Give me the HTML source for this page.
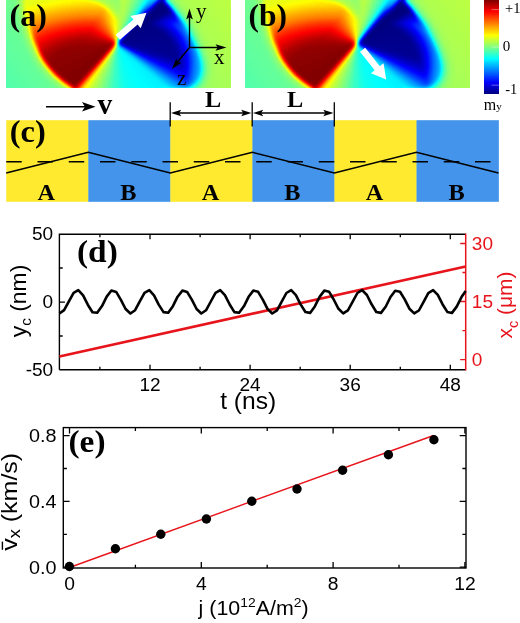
<!DOCTYPE html>
<html><head><meta charset="utf-8"><title>figure</title>
<style>
html,body{margin:0;padding:0;background:#fff}
#fig{position:relative;width:520px;height:623px;overflow:hidden;background:#fff;font-family:"Liberation Sans",sans-serif}
.hm{position:absolute;overflow:hidden;filter:url(#jet)}
.hm .bg{position:absolute;inset:0;background:linear-gradient(55deg,rgb(116,116,116) 0%,rgb(128,128,128) 35%,rgb(143,143,143) 100%)}
.wrap{position:absolute;inset:0}
.lobe{position:absolute;left:-20px;top:-20px;right:-20px;bottom:-20px}
#cbar{position:absolute;left:483.5px;top:0;width:15.8px;height:93.8px;background:linear-gradient(180deg,rgb(255,255,255),rgb(0,0,0));filter:url(#jet)}
svg#ov{position:absolute;left:0;top:0}
.sb{font-family:"Liberation Serif",serif;font-weight:bold}
.sr{font-family:"Liberation Serif",serif}
.ss{font-family:"Liberation Sans",sans-serif}
</style></head>
<body>
<div id="fig">
<svg width="0" height="0" style="position:absolute"><defs>
<filter id="jet" x="0" y="0" width="100%" height="100%" color-interpolation-filters="sRGB">
<feComponentTransfer>
<feFuncR type="table" tableValues="0 0 0 0 .5 1 1 1 .5"/>
<feFuncG type="table" tableValues="0 0 .5 1 1 1 .5 0 0"/>
<feFuncB type="table" tableValues=".5 1 1 1 .5 0 0 0 0"/>
</feComponentTransfer>
</filter></defs></svg>
<div class="hm" style="left:6.2px;top:0;width:224.5px;height:88.3px">
<div class="bg"></div>
<div class="wrap" style="filter:blur(5px)"><div class="lobe" style="clip-path:path('M 174.90,17.40 L 179.90,18.40 C 190.90,30.40 196.90,38.40 200.90,44.40 C 202.90,47.40 206.90,55.40 209.90,62.40 C 213.90,71.40 217.90,81.40 217.90,89.40 C 217.40,101.40 210.90,110.40 198.90,110.90 L 178.90,110.90 L 160.90,73.40 Z');background:rgb(92,92,92)"></div></div>
<div class="wrap" style="filter:blur(5.5px)"><div class="lobe" style="clip-path:path('M 86.90,109.40 L 82.90,107.40 L 75.90,101.90 L 67.40,94.90 L 61.40,87.90 L 55.90,80.90 L 51.90,73.40 L 48.90,66.40 L 46.40,61.40 L 44.40,54.90 L 42.40,48.40 C 39.90,39.40 37.90,27.40 36.90,15.40 L 93.90,18.40 L 107.90,21.40 L 117.90,25.90 L 124.90,32.40 L 132.90,43.40 L 130.90,58.40 L 90.90,63.40 Z');background:rgb(173,173,173)"></div></div>
<div class="wrap" style="filter:blur(2.2px)"><div class="lobe" style="clip-path:path('M 134.90,5.40 L 133.90,45.40 L 124.40,33.90 C 121.90,31.40 119.90,29.40 117.40,27.40 C 114.90,25.40 111.90,23.90 107.90,22.90 C 102.90,21.40 98.90,20.60 93.90,20.10 C 88.90,19.40 84.90,18.90 80.90,18.40 L 38.90,17.40 C 39.90,27.40 41.90,39.40 44.40,48.40 L 46.40,55.00 L 48.30,61.50 L 50.90,66.70 L 53.50,73.40 L 57.50,80.70 L 62.80,87.60 L 68.70,94.30 L 76.70,101.20 L 83.90,106.40 L 87.10,108.40 L 82.90,121.40 L 174.90,121.40 L 178.90,107.90 L 196.90,107.90 C 206.90,107.40 214.40,99.40 214.90,88.40 C 214.90,81.40 211.90,72.40 207.90,64.40 C 204.90,57.40 200.90,49.40 198.90,46.40 C 194.90,40.40 188.90,32.40 177.90,19.90 L 188.90,5.40 Z');background:conic-gradient(from 0deg at 130.9px 63.4px, #fff 0deg, #fff 43deg, #000 44deg, #000 58deg, rgb(70,70,70) 80deg, #fff 105deg, #fff 360deg),radial-gradient(circle at 150.9px 83.4px, rgb(0,0,0) 40px, rgb(32,32,32) 51px, rgb(64,64,64) 58px, rgb(82,82,82) 66px),radial-gradient(ellipse 185px 100px at 105.9px 87.4px, rgb(255,255,255) 20%, rgb(242,242,242) 30%, rgb(223,223,223) 38.5%, rgb(209,209,209) 45%, rgb(191,191,191) 51%, rgb(178,178,178) 58%, rgb(163,163,163) 65%, rgb(153,153,153) 71%, rgb(153,153,153) 100%),conic-gradient(from 47deg at 130.9px 63.4px, rgb(0,0,0) 0deg, rgb(5,5,5) 57deg, rgb(20,20,20) 65deg, rgb(43,43,43) 72deg, rgb(71,71,71) 78deg, rgb(92,92,92) 84deg, rgb(96,96,96) 105deg, rgb(99,99,99) 121deg, rgb(110,110,110) 137deg, rgb(128,128,128) 151deg, rgb(143,143,143) 162deg, rgb(163,163,163) 170deg, rgb(191,191,191) 172.5deg, rgb(223,223,223) 174.5deg, rgb(255,255,255) 177deg, rgb(251,251,251) 215deg, rgb(245,245,245) 228deg, rgb(235,235,235) 241deg, rgb(223,223,223) 253deg, rgb(209,209,209) 266deg, rgb(191,191,191) 283deg, rgb(163,163,163) 303deg, rgb(145,145,145) 318deg, rgb(138,138,138) 328deg, rgb(125,125,125) 336deg, rgb(110,110,110) 344deg, rgb(92,92,92) 349deg, rgb(51,51,51) 352.5deg, rgb(15,15,15) 355deg, rgb(0,0,0) 357deg, rgb(0,0,0) 360deg);background-blend-mode:darken,lighten,darken,normal;"></div></div>
</div>
<div class="hm" style="left:245.2px;top:0;width:224.5px;height:88.3px">
<div class="bg"></div>
<div class="wrap" style="filter:blur(5px)"><div class="lobe" style="clip-path:path('M 175.90,17.80 L 180.90,18.80 C 191.90,30.80 197.90,38.80 201.90,44.80 C 203.90,47.80 207.90,55.80 210.90,62.80 C 214.90,71.80 218.90,81.80 218.90,89.80 C 218.40,101.80 211.90,110.80 199.90,111.30 L 179.90,111.30 L 161.90,73.80 Z');background:rgb(92,92,92)"></div></div>
<div class="wrap" style="filter:blur(5.5px)"><div class="lobe" style="clip-path:path('M 87.90,109.80 L 83.90,107.80 L 76.90,102.30 L 68.40,95.30 L 62.40,88.30 L 56.90,81.30 L 52.90,73.80 L 49.90,66.80 L 47.40,61.80 L 45.40,55.30 L 43.40,48.80 C 40.90,39.80 38.90,27.80 37.90,15.80 L 94.90,18.80 L 108.90,21.80 L 118.90,26.30 L 125.90,32.80 L 133.90,43.80 L 131.90,58.80 L 91.90,63.80 Z');background:rgb(173,173,173)"></div></div>
<div class="wrap" style="filter:blur(2.2px)"><div class="lobe" style="clip-path:path('M 135.90,5.80 L 134.90,45.80 L 125.40,34.30 C 122.90,31.80 120.90,29.80 118.40,27.80 C 115.90,25.80 112.90,24.30 108.90,23.30 C 103.90,21.80 99.90,21.00 94.90,20.50 C 89.90,19.80 85.90,19.30 81.90,18.80 L 39.90,17.80 C 40.90,27.80 42.90,39.80 45.40,48.80 L 47.40,55.40 L 49.30,61.90 L 51.90,67.10 L 54.50,73.80 L 58.50,81.10 L 63.80,88.00 L 69.70,94.70 L 77.70,101.60 L 84.90,106.80 L 88.10,108.80 L 83.90,121.80 L 175.90,121.80 L 179.90,108.30 L 197.90,108.30 C 207.90,107.80 215.40,99.80 215.90,88.80 C 215.90,81.80 212.90,72.80 208.90,64.80 C 205.90,57.80 201.90,49.80 199.90,46.80 C 195.90,40.80 189.90,32.80 178.90,20.30 L 189.90,5.80 Z');background:conic-gradient(from 0deg at 131.9px 63.8px, #fff 0deg, #fff 43deg, #000 44deg, #000 58deg, rgb(70,70,70) 80deg, #fff 105deg, #fff 360deg),radial-gradient(circle at 151.9px 83.8px, rgb(0,0,0) 40px, rgb(32,32,32) 51px, rgb(64,64,64) 58px, rgb(82,82,82) 66px),radial-gradient(ellipse 185px 100px at 106.9px 87.8px, rgb(255,255,255) 20%, rgb(242,242,242) 30%, rgb(223,223,223) 38.5%, rgb(209,209,209) 45%, rgb(191,191,191) 51%, rgb(178,178,178) 58%, rgb(163,163,163) 65%, rgb(153,153,153) 71%, rgb(153,153,153) 100%),conic-gradient(from 47deg at 131.9px 63.8px, rgb(0,0,0) 0deg, rgb(5,5,5) 57deg, rgb(20,20,20) 65deg, rgb(43,43,43) 72deg, rgb(71,71,71) 78deg, rgb(92,92,92) 84deg, rgb(96,96,96) 105deg, rgb(99,99,99) 121deg, rgb(110,110,110) 137deg, rgb(128,128,128) 151deg, rgb(143,143,143) 162deg, rgb(163,163,163) 170deg, rgb(191,191,191) 172.5deg, rgb(223,223,223) 174.5deg, rgb(255,255,255) 177deg, rgb(251,251,251) 215deg, rgb(245,245,245) 228deg, rgb(235,235,235) 241deg, rgb(223,223,223) 253deg, rgb(209,209,209) 266deg, rgb(191,191,191) 283deg, rgb(163,163,163) 303deg, rgb(145,145,145) 318deg, rgb(138,138,138) 328deg, rgb(125,125,125) 336deg, rgb(110,110,110) 344deg, rgb(92,92,92) 349deg, rgb(51,51,51) 352.5deg, rgb(15,15,15) 355deg, rgb(0,0,0) 357deg, rgb(0,0,0) 360deg);background-blend-mode:darken,lighten,darken,normal;"></div></div>
</div>
<div id="cbar"></div>
<svg id="ov" width="520" height="623" viewBox="0 0 520 623">
<polygon fill="#fff" points="119.9,39.7 137.6,24.6 140.7,28.2 146.5,12.7 130.3,16.0 133.4,19.6 115.7,34.7"/>
<polygon fill="#fff" points="360.0,51.7 374.7,70.2 370.9,73.2 386.2,79.6 383.5,63.3 379.8,66.2 365.2,47.7"/>
<g stroke="#000" stroke-width="1.4" fill="none"><path d="M189.5,47.5V16M189.5,47.5H218M189.5,47.5L177,62.7"/></g>
<polygon points="189.5,8.5 186.2,19.5 189.5,17.3 192.8,19.5"/>
<polygon points="226.5,47.5 215.5,44.2 217.7,47.5 215.5,50.8"/>
<polygon points="171.8,69 176.3,58.5 177.8,62.3 181.5,62.8"/>
<text class="sr" x="196" y="17.5" font-size="21">y</text>
<text class="sr" x="214" y="64" font-size="21">x</text>
<text class="sr" x="177" y="84.5" font-size="21">z</text>
<text class="sr" x="505" y="12.5" font-size="14.5">+1</text>
<text class="sr" x="502.8" y="51" font-size="15">0</text>
<text class="sr" x="505.2" y="94.4" font-size="14.5">-1</text>
<text class="sr" x="483.8" y="109.7" font-size="16">m<tspan font-size="11">y</tspan></text>
<g stroke="#fff" stroke-width="0.7" opacity="0.55"><path d="M491.5,9.6h7.5M491.5,47h7.5M491.5,85.2h7.5"/></g>
<rect x="6.25" y="120.2" width="82.35" height="81.6" fill="#FFEA30"/>
<rect x="88.30" y="120.2" width="82.35" height="81.6" fill="#4394EA"/>
<rect x="170.35" y="120.2" width="82.35" height="81.6" fill="#FFEA30"/>
<rect x="252.40" y="120.2" width="82.35" height="81.6" fill="#4394EA"/>
<rect x="334.45" y="120.2" width="82.35" height="81.6" fill="#FFEA30"/>
<rect x="416.50" y="120.2" width="82.35" height="81.6" fill="#4394EA"/>
<polyline points="6.2,173 88.3,152.3 170.3,173 252.4,152.3 334.4,173 416.5,152.3 498.5,173" fill="none" stroke="#000" stroke-width="1.5"/>
<line x1="6.25" y1="161.8" x2="492.5" y2="161.8" stroke="#000" stroke-width="1.4" stroke-dasharray="15.5 15.75"/>
<text class="sb" transform="translate(46.3,200) scale(1.08,1)" font-size="22.5" text-anchor="middle">A</text>
<text class="sb" transform="translate(128.3,200) scale(1.08,1)" font-size="22.5" text-anchor="middle">B</text>
<text class="sb" transform="translate(210.4,200) scale(1.08,1)" font-size="22.5" text-anchor="middle">A</text>
<text class="sb" transform="translate(292.4,200) scale(1.08,1)" font-size="22.5" text-anchor="middle">B</text>
<text class="sb" transform="translate(374.5,200) scale(1.08,1)" font-size="22.5" text-anchor="middle">A</text>
<text class="sb" transform="translate(456.5,200) scale(1.08,1)" font-size="22.5" text-anchor="middle">B</text>
<line x1="46" y1="106.8" x2="88" y2="106.8" stroke="#000" stroke-width="1.4"/>
<polygon points="95.5,106.8 82,102 85,106.8 82,111.6"/>
<text class="sb" transform="translate(97.6,114.3) scale(0.98,1)" font-size="30">v</text>
<line x1="170.2" y1="102.3" x2="170.2" y2="126.5" stroke="#000" stroke-width="1.3"/>
<line x1="252.2" y1="102.3" x2="252.2" y2="126.5" stroke="#000" stroke-width="1.3"/>
<line x1="334.3" y1="102.3" x2="334.3" y2="126.5" stroke="#000" stroke-width="1.3"/>
<line x1="176.2" y1="113" x2="246.2" y2="113" stroke="#000" stroke-width="1.3"/>
<polygon points="171.0,113 181.2,109.8 179.2,113 181.2,116.2"/>
<polygon points="251.39999999999998,113 241.2,109.8 243.2,113 241.2,116.2"/>
<text class="sb" transform="translate(213.2,107.3) scale(1.08,1)" font-size="22.5" text-anchor="middle">L</text>
<line x1="258.2" y1="113" x2="328.3" y2="113" stroke="#000" stroke-width="1.3"/>
<polygon points="253.0,113 263.2,109.8 261.2,113 263.2,116.2"/>
<polygon points="333.5,113 323.3,109.8 325.3,113 323.3,116.2"/>
<text class="sb" transform="translate(295.2,107.3) scale(1.08,1)" font-size="22.5" text-anchor="middle">L</text>
<path d="M59.4,369.8V234.3H465.7M59.4,369.8H465.7" fill="none" stroke="#000" stroke-width="1.4"/>
<line x1="465.7" y1="233.60000000000002" x2="465.7" y2="370.5" stroke="#e8141c" stroke-width="1.5"/>
<path d="M99.9,369.8v-3M99.9,234.3v3 M150.0,369.8v-5M150.0,234.3v5 M200.1,369.8v-3M200.1,234.3v3 M250.1,369.8v-5M250.1,234.3v5 M300.2,369.8v-3M300.2,234.3v3 M350.2,369.8v-5M350.2,234.3v5 M400.3,369.8v-3M400.3,234.3v3 M450.3,369.8v-5M450.3,234.3v5 M59.4,302.1h5.5 M59.4,268h3.3 M59.4,336h3.3" stroke="#000" stroke-width="1.3" fill="none"/>
<path d="M465.7,243.5h-5.5 M465.7,301.5h-5.5 M465.7,359.6h-5.5 M465.7,272.5h-3.3 M465.7,330.6h-3.3" stroke="#e8141c" stroke-width="1.3" fill="none"/>
<text class="ss" transform="translate(150.0,390.6) scale(1.07,1)" font-size="17.8" text-anchor="middle" fill="#000">12</text>
<text class="ss" transform="translate(250.1,390.6) scale(1.07,1)" font-size="17.8" text-anchor="middle" fill="#000">24</text>
<text class="ss" transform="translate(350.2,390.6) scale(1.07,1)" font-size="17.8" text-anchor="middle" fill="#000">36</text>
<text class="ss" transform="translate(450.3,390.6) scale(1.07,1)" font-size="17.8" text-anchor="middle" fill="#000">48</text>
<text class="ss" transform="translate(53.2,240.3) scale(1.07,1)" font-size="17.8" text-anchor="end" fill="#000">50</text>
<text class="ss" transform="translate(53.2,308.3) scale(1.07,1)" font-size="17.8" text-anchor="end" fill="#000">0</text>
<text class="ss" transform="translate(53.2,376.3) scale(1.07,1)" font-size="17.8" text-anchor="end" fill="#000">-50</text>
<text class="ss" transform="translate(471.8,250.3) scale(1.07,1)" font-size="17.8" text-anchor="start" fill="#e8141c">30</text>
<text class="ss" transform="translate(471.8,308.3) scale(1.07,1)" font-size="17.8" text-anchor="start" fill="#e8141c">15</text>
<text class="ss" transform="translate(471.8,365.90000000000003) scale(1.07,1)" font-size="17.8" text-anchor="start" fill="#e8141c">0</text>
<text class="ss" transform="translate(248.2,408.6) scale(1.07,1)" font-size="23" text-anchor="middle" fill="#000">t (ns)</text>
<text class="ss" transform="translate(25.8,301) rotate(-90) scale(1.02,1)" font-size="22.5" text-anchor="middle" fill="#000">y<tspan font-size="15" dy="5">c</tspan><tspan dy="-5"> (nm)</tspan></text>
<text class="ss" transform="translate(511.5,305) rotate(-90) scale(1.0,1)" font-size="21" text-anchor="middle" fill="#e8141c">x<tspan font-size="14.5" dy="6">c</tspan><tspan dy="-6"> (μm)</tspan></text>
<line x1="59.4" y1="356.5" x2="465.7" y2="266.5" stroke="#e8141c" stroke-width="2.6"/>
<polyline points="59.4,313.5 64.1,310.1 68.9,301.3 73.6,292.8 78.3,290.2 83.1,295.3 87.8,304.7 92.5,312.2 97.2,312.8 102.0,306.1 106.7,296.6 111.4,290.5 116.2,291.9 120.9,299.8 125.6,309.0 130.4,313.5 135.1,310.2 139.8,301.4 144.5,292.8 149.3,290.2 154.0,295.3 158.7,304.6 163.5,312.1 168.2,312.8 172.9,306.2 177.6,296.7 182.4,290.6 187.1,291.9 191.8,299.7 196.6,309.0 201.3,313.5 206.0,310.3 210.8,301.5 215.5,292.9 220.2,290.2 224.9,295.2 229.7,304.5 234.4,312.1 239.1,312.8 243.9,306.3 248.6,296.8 253.3,290.6 258.1,291.8 262.8,299.6 267.5,308.9 272.2,313.5 277.0,310.3 281.7,301.6 286.4,293.0 291.2,290.2 295.9,295.1 300.6,304.4 305.4,312.0 310.1,312.9 314.8,306.4 319.6,296.9 324.3,290.6 329.0,291.7 333.7,299.5 338.5,308.8 343.2,313.4 347.9,310.4 352.7,301.7 357.4,293.0 362.1,290.2 366.9,295.0 371.6,304.3 376.3,312.0 381.0,312.9 385.8,306.5 390.5,297.0 395.2,290.7 400.0,291.7 404.7,299.4 409.4,308.7 414.2,313.4 418.9,310.5 423.6,301.8 428.3,293.1 433.1,290.2 437.8,294.9 442.5,304.2 447.3,311.9 452.0,312.9 456.7,306.6 461.5,297.1 465.7,291.0" fill="none" stroke="#000" stroke-width="2.6" stroke-linejoin="round"/>
<rect x="63.3" y="427.6" width="402.7" height="140.39999999999998" fill="none" stroke="#000" stroke-width="1.4"/>
<path d="M69.5,568v-6M69.5,427.6v6 M135.4,568v-3.3M135.4,427.6v3.3 M201.3,568v-6M201.3,427.6v6 M267.2,568v-3.3M267.2,427.6v3.3 M333.1,568v-6M333.1,427.6v6 M399.0,568v-3.3M399.0,427.6v3.3 M464.9,568v-6M464.9,427.6v6 M63.3,567.2h6.3M466,567.2h-6.3 M63.3,534.3h3.6M466,534.3h-3.6 M63.3,501.4h6.3M466,501.4h-6.3 M63.3,468.5h3.6M466,468.5h-3.6 M63.3,435.6h6.3M466,435.6h-6.3" stroke="#000" stroke-width="1.3" fill="none"/>
<text class="ss" transform="translate(69.5,590) scale(1.07,1)" font-size="18" text-anchor="middle" fill="#000">0</text>
<text class="ss" transform="translate(201.3,590) scale(1.07,1)" font-size="18" text-anchor="middle" fill="#000">4</text>
<text class="ss" transform="translate(333.1,590) scale(1.07,1)" font-size="18" text-anchor="middle" fill="#000">8</text>
<text class="ss" transform="translate(464.9,590) scale(1.07,1)" font-size="18" text-anchor="middle" fill="#000">12</text>
<text class="ss" transform="translate(56.6,573.6) scale(1.1,1)" font-size="18" text-anchor="end" fill="#000">0.0</text>
<text class="ss" transform="translate(56.6,507.8) scale(1.1,1)" font-size="18" text-anchor="end" fill="#000">0.4</text>
<text class="ss" transform="translate(56.6,442.0) scale(1.1,1)" font-size="18" text-anchor="end" fill="#000">0.8</text>
<line x1="69.5" y1="567.5" x2="433.5" y2="435.5" stroke="#e8141c" stroke-width="1.4"/>
<circle cx="69.4" cy="566.5" r="4.7"/>
<circle cx="115.4" cy="548.8" r="4.7"/>
<circle cx="160.8" cy="534.2" r="4.7"/>
<circle cx="206.4" cy="519" r="4.7"/>
<circle cx="251.8" cy="501.3" r="4.7"/>
<circle cx="297" cy="489" r="4.7"/>
<circle cx="342.6" cy="470.3" r="4.7"/>
<circle cx="388.4" cy="454.8" r="4.7"/>
<circle cx="433.9" cy="439.8" r="4.7"/>
<text class="ss" transform="translate(253.6,615.4) scale(1.07,1)" font-size="20" text-anchor="middle" fill="#000">j (10<tspan font-size="13" dy="-8.5">12</tspan><tspan dy="8.5">A/m</tspan><tspan font-size="13" dy="-8.5">2</tspan><tspan dy="8.5">)</tspan></text>
<text class="ss" transform="translate(17.3,501.8) rotate(-90) scale(1.135,1)" font-size="22" text-anchor="middle" fill="#000">v<tspan font-size="16" dy="3">x</tspan><tspan dy="-3"> (km/s)</tspan></text>
<line x1="2.4" y1="549.8" x2="2.4" y2="541.6" stroke="#000" stroke-width="1.4"/>
<text class="sb" transform="translate(9.5,25.5) scale(1.02,1)" font-size="31.5">(a)</text>
<text class="sb" transform="translate(248.5,25.5) scale(1.0,1)" font-size="31.5">(b)</text>
<text class="sb" transform="translate(9.7,142) scale(1.03,1)" font-size="31.5">(c)</text>
<text class="sb" transform="translate(77,262) scale(1.06,1)" font-size="31.5">(d)</text>
<text class="sb" transform="translate(68.5,452) scale(1.06,1)" font-size="31.5">(e)</text>
</svg>
</div>
</body></html>
